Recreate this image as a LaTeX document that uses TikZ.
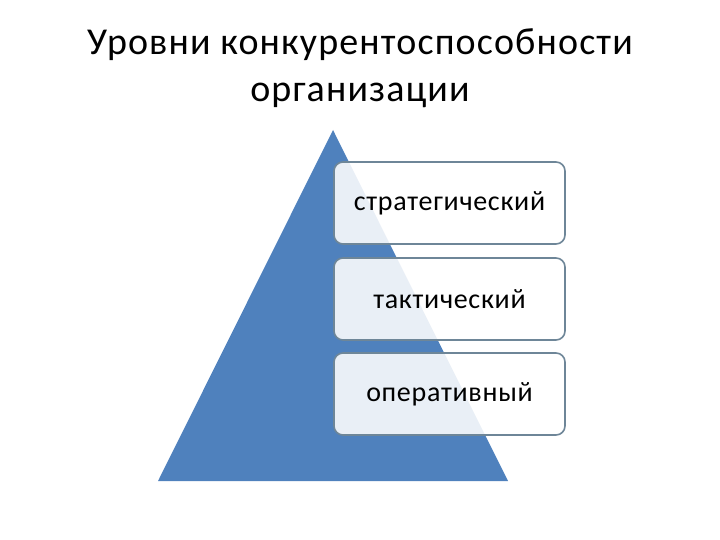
\documentclass[tikz,border=0pt]{standalone}
\usepackage{fontspec}
\setmainfont{Carlito}
\newfontfamily\titlefont[LetterSpace=3]{Carlito}
\newfontfamily\boxfont[LetterSpace=2.5]{Carlito}
\begin{document}
\begin{tikzpicture}[x=1pt,y=-1pt,
  levelbox/.style={draw=boxedge, line width=1.6pt, fill=white, fill opacity=0.88, text opacity=1,
    rounded corners=9pt, minimum width=231pt, minimum height=82pt, inner sep=0pt,
    font=\boxfont\fontsize{28}{32}\selectfont},
  title/.style={font=\titlefont\fontsize{38}{45}\selectfont, inner sep=0pt, anchor=base}]
\definecolor{pyr}{HTML}{4F81BD}
\definecolor{boxedge}{HTML}{6E8698}
\useasboundingbox (0,0) rectangle (720,540);
\node[title] (t1) at (360,55) {Уровни конкурентоспособности};
\node[title] (t2) at (360,102) {организации};
\fill[pyr] (333,130) coordinate (apex) -- (508,481) -- (158,481) -- cycle;
\node[levelbox] (s) at (449.5,203) {стратегический};
\node[levelbox] (t) at (449.5,299) {тактический};
\node[levelbox] (o) at (449.5,394) {оперативный};
\end{tikzpicture}
\end{document}
